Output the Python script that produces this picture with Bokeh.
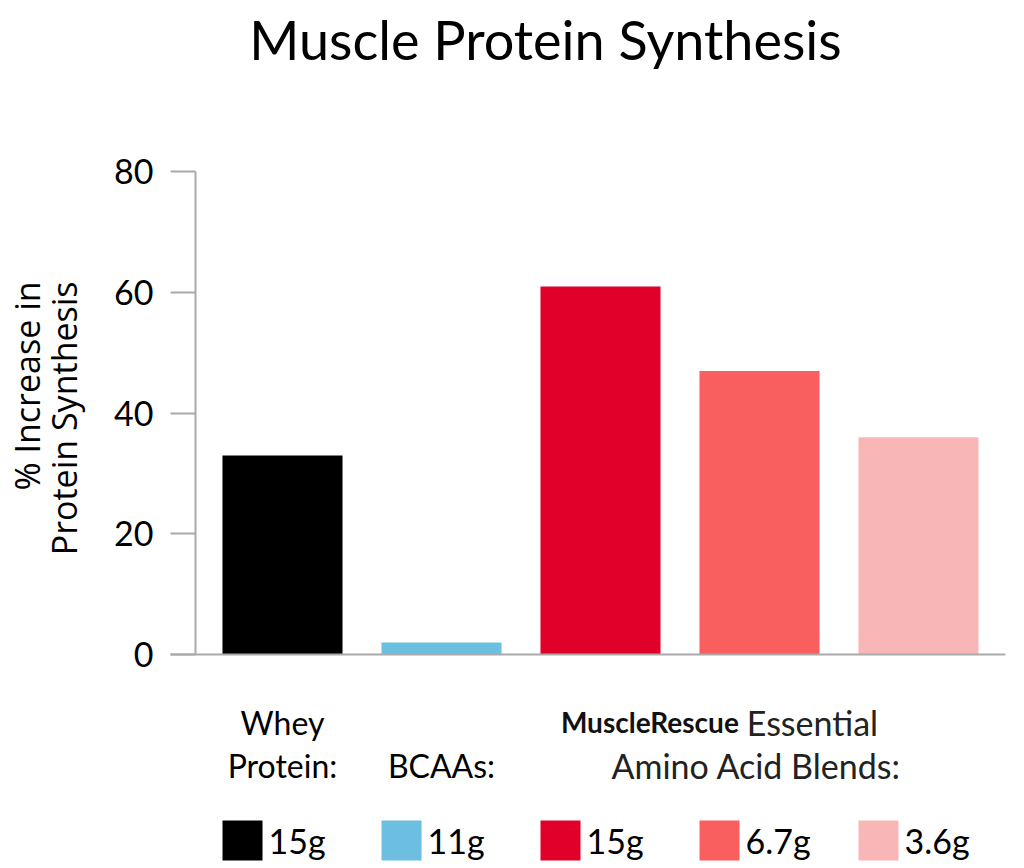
import math
from bokeh.plotting import figure
from bokeh.models import Range1d, FixedTicker, LinearAxis, ColumnDataSource
from bokeh.core.properties import value
from bokeh.embed import file_html
from bokeh.resources import INLINE

# ---- data ----
chart_title = "Muscle Protein Synthesis"
products = ["Whey Protein", "BCAAs", "MuscleRescue 15g", "MuscleRescue 6.7g", "MuscleRescue 3.6g"]
increase = [33, 2, 61, 47, 36]
doses = ["15g", "11g", "15g", "6.7g", "3.6g"]
colors = ["#000000", "#6cbfe0", "#e0002a", "#f95f5f", "#f9b6b7"]
y_ticks = [0, 20, 40, 60, 80]
y_label_lines = ["% Increase in", "Protein Synthesis"]
whey_lines = ["Whey", "Protein:"]
bcaa_label = "BCAAs:"
blend_bold = "MuscleRescue"
blend_line1 = "Essential"
blend_line2 = "Amino Acid Blends:"

# ---- layout ----
W, H = 1012, 862
BAR_W = 0.755
X0, X1 = -1.7736, 4.5472
Y0, Y1 = -34.49, 108.43
AXIS_X = -0.547          # data x where the value axis sits
TICK_OUT = 25
idx = list(range(len(products)))

p = figure(width=W, height=H, output_backend="svg", toolbar_location=None,
           x_range=Range1d(X0, X1), y_range=Range1d(Y0, Y1),
           x_axis_location=None, y_axis_location=None,
           min_border_left=0, min_border_right=7, min_border_top=0, min_border_bottom=0)
p.grid.visible = False
p.outline_line_color = None
p.background_fill_color = "white"
p.border_fill_color = "white"

src = ColumnDataSource(dict(x=idx, top=increase, color=colors, dose=doses,
                            sq_x=[i - BAR_W / 2 + 0.126 for i in idx],
                            tx=[i - 0.088 for i in idx],
                            ly=[-30.84] * len(idx)))
p.vbar(x="x", top="top", bottom=0, width=BAR_W, fill_color="color", line_color=None, source=src)

# value axis
ax = LinearAxis(fixed_location=AXIS_X)
ax.ticker = FixedTicker(ticks=y_ticks)
ax.bounds = (y_ticks[0], y_ticks[-1])
ax.axis_line_color = "#aaaaaa"
ax.axis_line_width = 2
ax.major_tick_line_color = "#aaaaaa"
ax.major_tick_line_width = 2
ax.major_tick_out = TICK_OUT
ax.major_tick_in = 0
ax.minor_tick_line_color = None
ax.major_label_text_font = "Lato"
ax.major_label_text_font_size = "34px"
ax.major_label_text_color = "#000000"
ax.major_label_standoff = 17
p.add_layout(ax, "left")

# baseline axis
bx = LinearAxis(fixed_location=0)
bx.ticker = FixedTicker(ticks=[])
bx.bounds = (AXIS_X - TICK_OUT / 159.0, X1)
bx.axis_line_color = "#aaaaaa"
bx.axis_line_width = 2
bx.major_tick_line_color = None
bx.minor_tick_line_color = None
bx.major_label_text_color = None
p.add_layout(bx, "below")

# y-axis title (two lines, rotated)
p.text(x=[-1.61, -1.377], y=[61.85, 61.85], text=y_label_lines, angle=math.pi / 2,
       text_font=value("Open Sans"), text_font_size="34px", text_align="right",
       text_baseline="middle", text_color="#000000")

# title
p.text(x=[1.654], y=[102.0], text=[chart_title], text_font=value("Lato"),
       text_font_size="54px", text_align="center", text_baseline="alphabetic", text_color="#000000")

# category labels
row1_y, row2_y = -11.27, -18.4
p.text(x=[0, 0, 1], y=[row1_y, row2_y, row2_y], text=[whey_lines[0], whey_lines[1], bcaa_label],
       text_font=value("Lato"), text_font_size="32px", text_align="center",
       text_baseline="middle", text_color="#000000")
blend_center = sum(idx[2:]) / 3
p.text(x=[blend_center - 0.13], y=[row1_y], text=[blend_bold], text_font=value("Lato"),
       text_font_style="bold", text_font_size="28px", text_align="right",
       text_baseline="middle", text_color="#111111")
p.text(x=[blend_center - 0.08], y=[row1_y], text=[blend_line1], text_font=value("Lato"),
       text_font_size="34px", text_align="left", text_baseline="middle", text_color="#222222")
p.text(x=[blend_center - 0.02], y=[row2_y], text=[blend_line2], text_font=value("Lato"),
       text_font_size="34px", text_align="center", text_baseline="middle", text_color="#222222")

# legend row
p.scatter(x="sq_x", y="ly", marker="square", size=40, fill_color="color", line_color=None, source=src)
p.text(x="tx", y="ly", text="dose", text_font=value("Lato"), text_font_size="34px",
       text_align="left", text_baseline="middle", text_color="#000000", source=src)

open("out.html", "w").write(file_html(p, INLINE))
